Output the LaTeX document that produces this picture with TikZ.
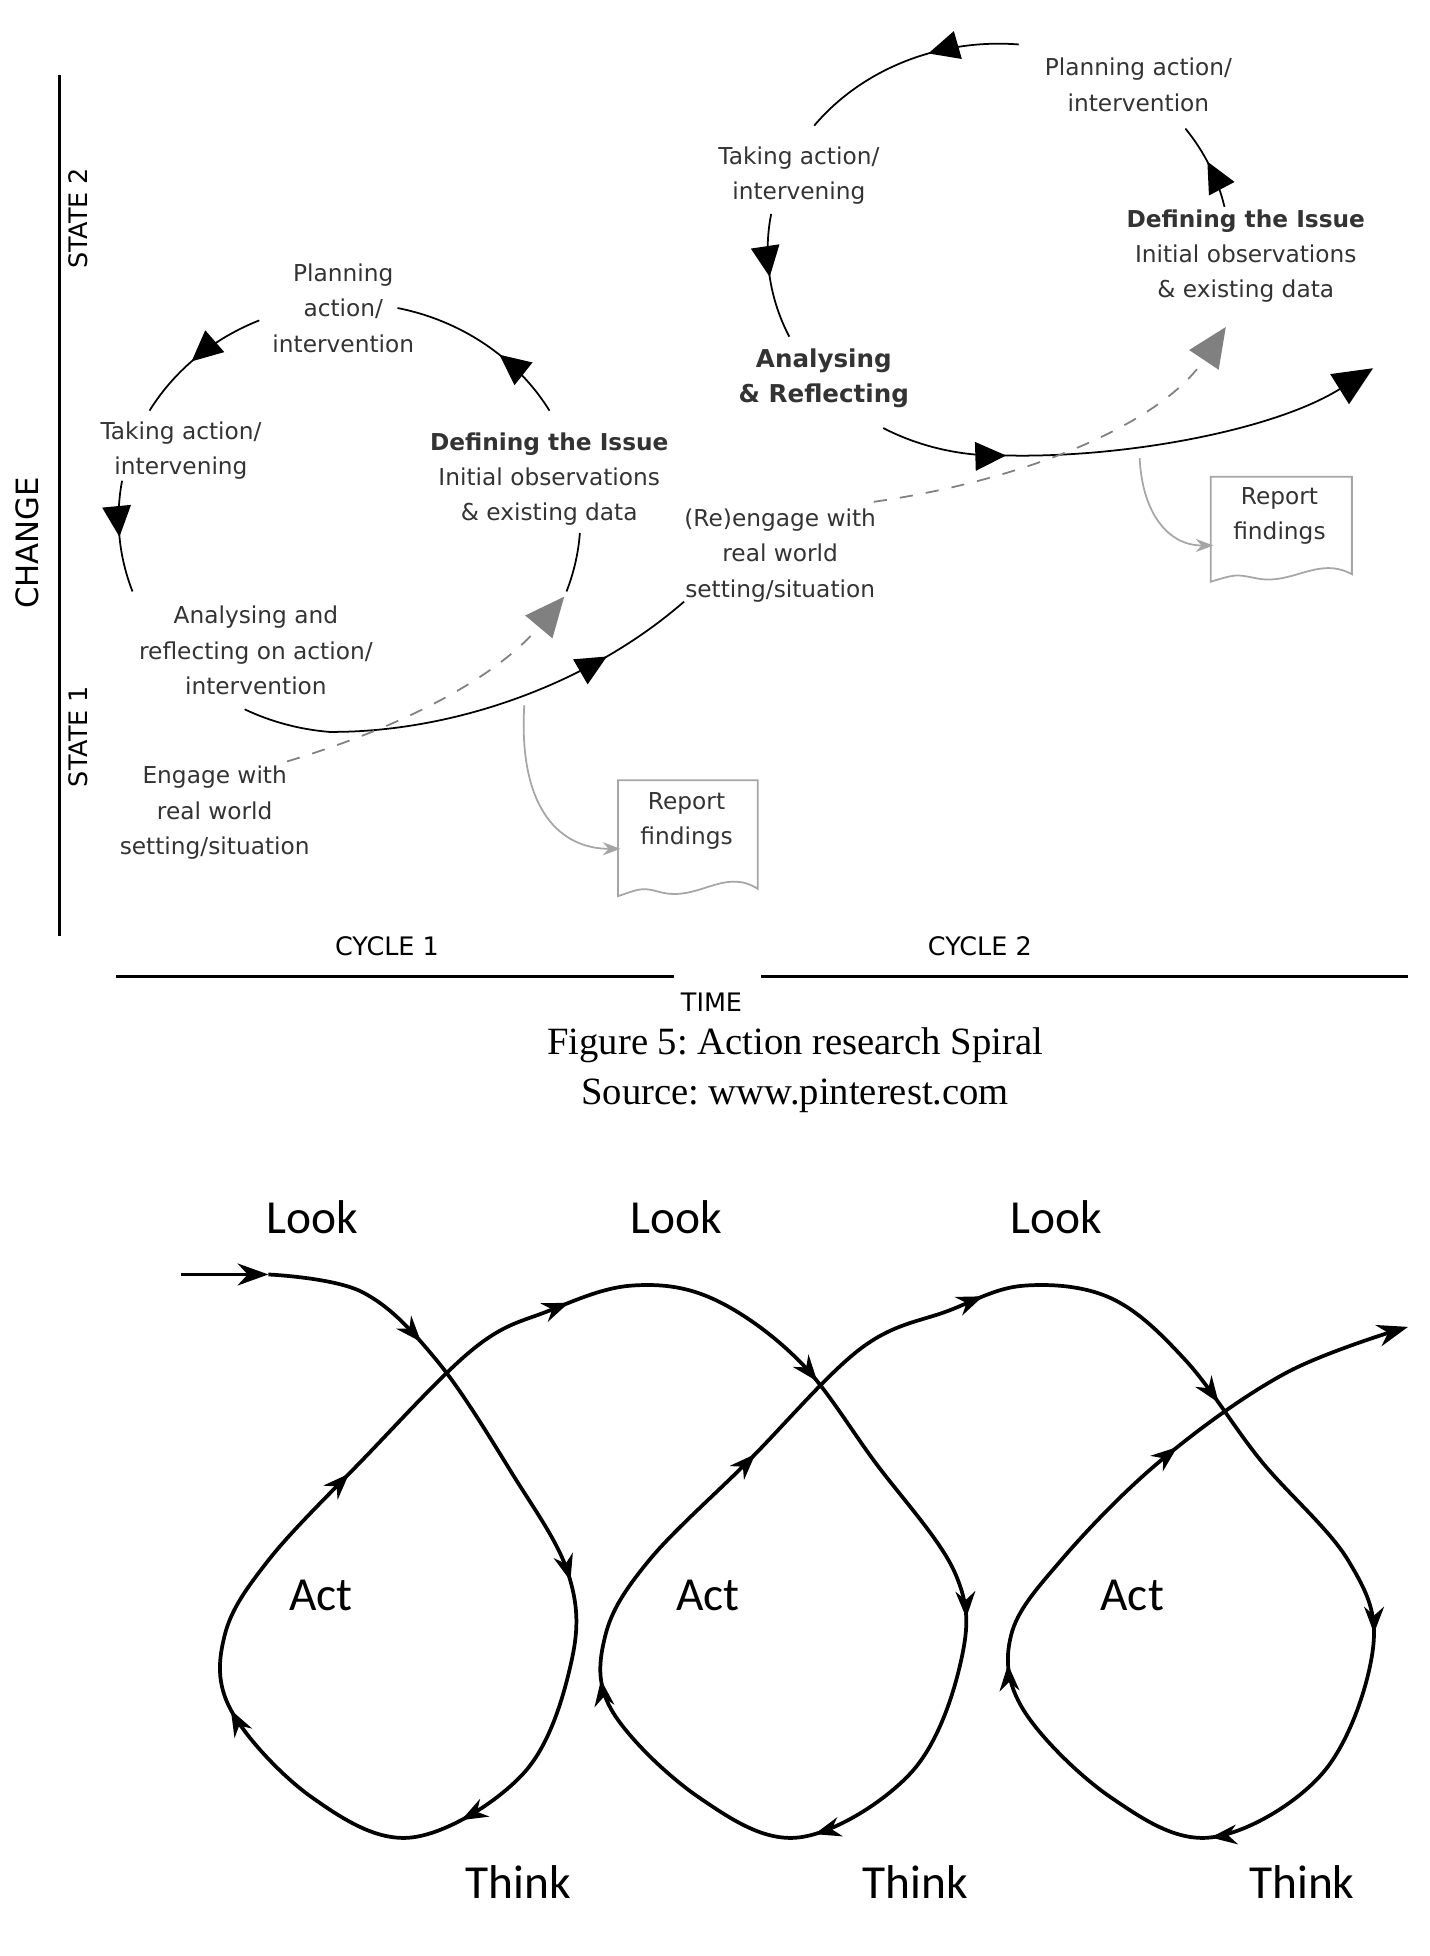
\documentclass[tikz,border=0pt]{standalone}
\usepackage{fontspec}
\setmainfont{Liberation Serif}
\newfontfamily\dv{DejaVu Sans}
\newfontfamily\cb{Carlito}
\usetikzlibrary{arrows.meta,decorations.markings}
\frenchspacing
\begin{document}
\begin{tikzpicture}[x=0.01cm,y=0.01cm,
 sm/.style={font=\dv\fontsize{5.3}{8}\selectfont,align=center,text=black!80},
 ax/.style={font=\dv\fontsize{5.8}{8}\selectfont},
 cyc/.style={line width=0.4pt},
 tri/.style={postaction=decorate,decoration={markings,mark=at position #1 with {\arrow{Triangle[length=7pt,width=6.5pt]}}}},
 gdash/.style={dashed,gray,line width=0.4pt},
 doc/.style={gray!70,line width=0.4pt},
 big/.style={font=\cb\fontsize{10.8}{12}\selectfont},
 loop/.style={line width=0.85pt,postaction=decorate,decoration={markings,mark=between positions 0.035 and 0.99 step 0.057 with {\arrow{Stealth[length=6pt,width=4.5pt]}}}}]
\useasboundingbox (0,0) rectangle (1145,-1567);
% axes
\draw[line width=0.7pt] (48,-60) -- (48,-750);
\draw[line width=0.7pt] (93,-782) -- (540,-782);
\draw[line width=0.7pt] (610,-782) -- (1128,-782);
\node[ax,rotate=90] (s2) at (63,-175) {STATE 2};
\node[ax,rotate=90] (s1) at (63,-590) {STATE 1};
\node[ax,rotate=90,font=\dv\fontsize{7}{8}\selectfont] (ch) at (22,-435) {CHANGE};
\node[ax] (c1) at (310,-758) {CYCLE 1};
\node[ax] (c2) at (785,-758) {CYCLE 2};
\node[ax] (tm) at (570,-803) {TIME};
\node[font=\fontsize{8.8}{10}\selectfont] (cap1) at (637,-837) {Figure 5: Action research Spiral};
\node[font=\fontsize{8.8}{10}\selectfont] (cap2) at (637,-878) {Source: www.pinterest.com};
% cycle 1
\draw[cyc] (280,-415) ++(-20:185 and 172) arc[start angle=-20,end angle=-4,x radius=185,y radius=172];
\draw[cyc,tri=0.4] (280,-415) ++(30:185 and 172) arc[start angle=30,end angle=78,x radius=185,y radius=172];
\draw[cyc,tri=0.55] (280,-415) ++(113:185 and 172) arc[start angle=113,end angle=150,x radius=185,y radius=172];
\draw[cyc,tri=0.5] (280,-415) ++(170:185 and 172) arc[start angle=170,end angle=200,x radius=185,y radius=172];
\draw[cyc,tri=0.8] (280,-415) ++(243:185 and 172) arc[start angle=243,end angle=265,x radius=185,y radius=172]
  .. controls (360,-587) and (470,-550) .. (548,-482);
\draw[gdash,-{Triangle[length=9pt,width=8pt,fill=gray]}] (230,-610) .. controls (330,-580) and (400,-540) .. (452,-478);
\node[sm] (p1) at (275,-247) {Planning\\action/\\intervention};
\node[sm] (t1) at (145,-361) {Taking action/\\intervening};
\node[sm] (d1) at (440,-384) {\textbf{Defining the Issue}\\Initial observations\\\& existing data};
\node[sm] (a1) at (205,-521) {Analysing and\\reflecting on action/\\intervention};
\node[sm] (e1) at (172,-651) {Engage with\\real world\\setting/situation};
\node[sm] (r1) at (625,-445) {(Re)engage with\\real world\\setting/situation};
% cycle 2
\draw[cyc,tri=0.55] (800,-200) ++(12:185 and 165) arc[start angle=12,end angle=36,x radius=185,y radius=165];
\draw[cyc,tri=0.4] (800,-200) ++(85:185 and 165) arc[start angle=85,end angle=143,x radius=185,y radius=165];
\draw[cyc,tri=0.5] (800,-200) ++(170:185 and 165) arc[start angle=170,end angle=205,x radius=185,y radius=165];
\draw[cyc,tri=0.25,-{Triangle[length=9pt,width=8pt]}] (800,-200) ++(240:185 and 165) arc[start angle=240,end angle=272,x radius=185,y radius=165]
  .. controls (900,-367) and (1020,-345) .. (1100,-295);
\draw[gdash,-{Triangle[length=9pt,width=8pt,fill=gray]}] (700,-402) .. controls (820,-385) and (930,-340) .. (982,-262);
\node[sm] (p2) at (912,-68) {Planning action/\\intervention};
\node[sm] (t2) at (640,-141) {Taking action/\\intervening};
\node[sm] (d2) at (998,-205) {\textbf{Defining the Issue}\\Initial observations\\\& existing data};
\node[sm,font=\dv\fontsize{5.6}{8}\selectfont\bfseries] (a2) at (660,-303) {Analysing\\\& Reflecting};
% reports
\draw[doc] (495,-625) -- (607,-625) -- (607,-712) .. controls (580,-695) and (560,-722) .. (530,-715) .. controls (515,-711) .. (495,-718) -- cycle;
\node[sm] (rf1) at (550,-658) {Report\\findings};
\draw[doc,-{Stealth[length=4pt]}] (420,-565) .. controls (415,-650) and (450,-680) .. (497,-680);
\draw[doc] (970,-382) -- (1083,-382) -- (1083,-460) .. controls (1055,-445) and (1035,-470) .. (1005,-463) .. controls (990,-460) .. (970,-466) -- cycle;
\node[sm] (rf2) at (1025,-413) {Report\\findings};
\draw[doc,-{Stealth[length=4pt]}] (913,-367) .. controls (915,-410) and (935,-437) .. (972,-437);
% bottom spiral
\draw[line width=0.85pt,-{Stealth[length=7pt,width=5pt]}] (145,-1021) -- (215,-1021);
\draw[loop,-{Stealth[length=7pt,width=5pt]}] plot[smooth,tension=0.6] coordinates {(215,-1021)(290,-1035)(350,-1090)(410,-1180)(455,-1260)(458,-1330)(420,-1420)(330,-1472)(250,-1440)(185,-1370)(180,-1310)(215,-1250)(290,-1170)(380,-1080)(440,-1050)(505,-1030)(570,-1040)(640,-1090)(700,-1170)(765,-1260)(770,-1330)(730,-1420)(640,-1472)(560,-1440)(490,-1370)(485,-1310)(520,-1250)(600,-1170)(690,-1080)(760,-1050)(820,-1030)(890,-1040)(950,-1090)(1010,-1170)(1080,-1250)(1100,-1320)(1060,-1420)(970,-1472)(890,-1440)(820,-1370)(810,-1310)(850,-1250)(930,-1170)(1030,-1100)(1128,-1063)};
\node[big] (l1) at (250,-975) {Look};
\node[big] (l2) at (542,-975) {Look};
\node[big] (l3) at (846,-975) {Look};
\node[big] (ac1) at (257,-1278) {Act};
\node[big] (ac2) at (567,-1278) {Act};
\node[big] (ac3) at (907,-1278) {Act};
\node[big] (th1) at (415,-1508) {Think};
\node[big] (th2) at (733,-1508) {Think};
\node[big] (th3) at (1043,-1508) {Think};
\end{tikzpicture}
\end{document}
